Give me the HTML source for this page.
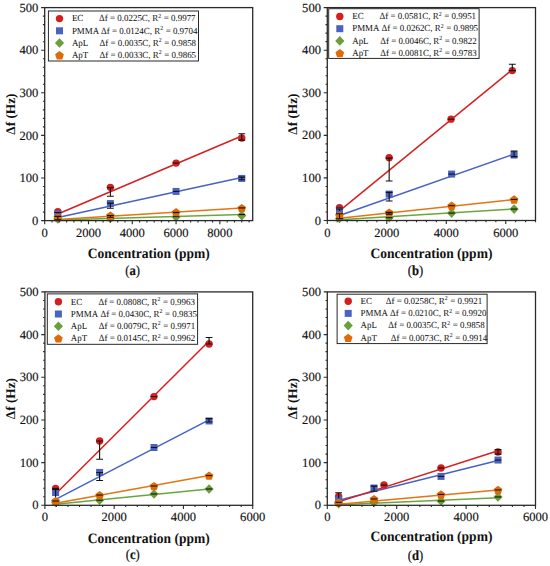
<!DOCTYPE html>
<html><head><meta charset="utf-8"><style>
html,body{margin:0;padding:0;background:#fff;}
body{width:550px;height:566px;overflow:hidden;}
svg{display:block;text-rendering:geometricPrecision;}
.t{font-family:"Liberation Serif",serif;font-size:12.6px;fill:#111;stroke:#111;stroke-width:0.15px;}
.b{font-family:"Liberation Serif",serif;font-size:13.3px;font-weight:bold;fill:#111;}
.l{font-family:"Liberation Serif",serif;font-size:9.25px;fill:#111;stroke:#111;stroke-width:0.04px;}
.s{font-size:6px;}
.sl{font-family:"Liberation Serif",serif;font-size:14px;font-weight:bold;fill:#111;stroke:#111;stroke-width:0.2px;}
.xb{font-family:"Liberation Serif",serif;font-size:14.3px;font-weight:bold;fill:#111;}
</style></head><body>
<svg width="550" height="566" viewBox="0 0 550 566">
<rect width="550" height="566" fill="#fff"/>
<line x1="57.84" y1="220.09" x2="241.75" y2="214.47" stroke="#6aa63e" stroke-width="1.5"/>
<line x1="57.84" y1="219.53" x2="241.75" y2="207.99" stroke="#e47514" stroke-width="1.5"/>
<line x1="57.84" y1="217.53" x2="241.75" y2="177.57" stroke="#4763c2" stroke-width="1.5"/>
<line x1="57.84" y1="214" x2="241.75" y2="136" stroke="#d42020" stroke-width="1.5"/>
<circle cx="57.84" cy="211.65" r="3.7" fill="#d51f1f"/>
<circle cx="110.38" cy="187.37" r="3.7" fill="#d51f1f"/>
<circle cx="176.07" cy="163.09" r="3.7" fill="#d51f1f"/>
<circle cx="241.75" cy="137.96" r="3.7" fill="#d51f1f"/>
<path d="M54.64 211.65H61.04" stroke="#111" stroke-width="1.1"/>
<path d="M110.38 187.8V196.32M106.98 187.8H113.78M106.98 196.32H113.78" stroke="#111" stroke-width="1.1" fill="none"/>
<path d="M172.87 163.09H179.27" stroke="#111" stroke-width="1.1"/>
<path d="M241.75 133.7V140.09M238.35 133.7H245.15M238.35 140.09H245.15" stroke="#111" stroke-width="1.1" fill="none"/>
<rect x="54.34" y="210.5" width="7.0" height="7.0" fill="#4a62c0"/>
<rect x="106.88" y="200.06" width="7.0" height="7.0" fill="#4a62c0"/>
<rect x="172.57" y="187.92" width="7.0" height="7.0" fill="#4a62c0"/>
<rect x="238.25" y="174.93" width="7.0" height="7.0" fill="#4a62c0"/>
<path d="M57.84 212.51V216.34M54.44 212.51H61.24M54.44 216.34H61.24" stroke="#111" stroke-width="1.1" fill="none"/>
<path d="M110.38 203.13V208.25M106.98 203.13H113.78M106.98 208.25H113.78" stroke="#111" stroke-width="1.1" fill="none"/>
<path d="M172.87 191.42H179.27" stroke="#111" stroke-width="1.1"/>
<path d="M241.75 177.15V179.7M238.35 177.15H245.15M238.35 179.7H245.15" stroke="#111" stroke-width="1.1" fill="none"/>
<path d="M57.84 214.22L62.44 219.02L57.84 223.82L53.24 219.02Z" fill="#6b9e3c"/>
<path d="M110.38 213.67L114.98 218.47L110.38 223.27L105.78 218.47Z" fill="#6b9e3c"/>
<path d="M176.07 212.18L180.67 216.98L176.07 221.78L171.47 216.98Z" fill="#6b9e3c"/>
<path d="M241.75 210.82L246.35 215.62L241.75 220.42L237.15 215.62Z" fill="#6b9e3c"/>
<path d="M54.64 219.02H61.04" stroke="#111" stroke-width="1.1"/>
<path d="M107.18 218.47H113.58" stroke="#111" stroke-width="1.1"/>
<path d="M172.87 216.55H179.27" stroke="#111" stroke-width="1.2"/>
<path d="M238.55 214.51H244.95" stroke="#111" stroke-width="1.2"/>
<polygon points="57.84,213.22 62.21,216.4 60.54,221.54 55.13,221.54 53.46,216.4" fill="#df6b08"/>
<polygon points="110.38,211.39 114.76,214.57 113.09,219.71 107.68,219.71 106.01,214.57" fill="#df6b08"/>
<polygon points="176.07,207.98 180.44,211.16 178.77,216.3 173.36,216.3 171.69,211.16" fill="#df6b08"/>
<polygon points="241.75,203.89 246.13,207.07 244.46,212.21 239.05,212.21 237.38,207.07" fill="#df6b08"/>
<path d="M57.84 216.34V219.75M54.44 216.34H61.24M54.44 219.75H61.24" stroke="#111" stroke-width="1.1" fill="none"/>
<path d="M110.38 215.49V217.19M106.98 215.49H113.78M106.98 217.19H113.78" stroke="#111" stroke-width="1.1" fill="none"/>
<path d="M172.87 212.51H179.27" stroke="#111" stroke-width="1.2"/>
<path d="M238.55 207.91H244.95" stroke="#111" stroke-width="1.2"/>
<rect x="44.7" y="7.6" width="208" height="213" fill="none" stroke="#2a2a2a" stroke-width="1.3"/>
<path d="M44.7 220.6H41.1M44.7 212.08H42.9M44.7 203.56H42.9M44.7 195.04H42.9M44.7 186.52H42.9M44.7 178H41.1M44.7 169.48H42.9M44.7 160.96H42.9M44.7 152.44H42.9M44.7 143.92H42.9M44.7 135.4H41.1M44.7 126.88H42.9M44.7 118.36H42.9M44.7 109.84H42.9M44.7 101.32H42.9M44.7 92.8H41.1M44.7 84.28H42.9M44.7 75.76H42.9M44.7 67.24H42.9M44.7 58.72H42.9M44.7 50.2H41.1M44.7 41.68H42.9M44.7 33.16H42.9M44.7 24.64H42.9M44.7 16.12H42.9M44.7 7.6H41.1M44.7 220.6V224.2M52 220.6V222.4M59.3 220.6V222.4M66.59 220.6V222.4M73.89 220.6V222.4M81.19 220.6V222.4M88.49 220.6V224.2M95.79 220.6V222.4M103.09 220.6V222.4M110.38 220.6V222.4M117.68 220.6V222.4M124.98 220.6V222.4M132.28 220.6V224.2M139.58 220.6V222.4M146.88 220.6V222.4M154.17 220.6V222.4M161.47 220.6V222.4M168.77 220.6V222.4M176.07 220.6V224.2M183.37 220.6V222.4M190.66 220.6V222.4M197.96 220.6V222.4M205.26 220.6V222.4M212.56 220.6V222.4M219.86 220.6V224.2M227.16 220.6V222.4M234.45 220.6V222.4M241.75 220.6V222.4M249.05 220.6V222.4" stroke="#2a2a2a" stroke-width="1.1" fill="none"/>
<text x="38.4" y="224.7" text-anchor="end" class="t">0</text>
<text x="38.4" y="182.1" text-anchor="end" class="t">100</text>
<text x="38.4" y="139.5" text-anchor="end" class="t">200</text>
<text x="38.4" y="96.9" text-anchor="end" class="t">300</text>
<text x="38.4" y="54.3" text-anchor="end" class="t">400</text>
<text x="38.4" y="11.7" text-anchor="end" class="t">500</text>
<text x="44.7" y="236.6" text-anchor="middle" class="t">0</text>
<text x="88.49" y="236.6" text-anchor="middle" class="t">2000</text>
<text x="132.28" y="236.6" text-anchor="middle" class="t">4000</text>
<text x="176.07" y="236.6" text-anchor="middle" class="t">6000</text>
<text x="219.86" y="236.6" text-anchor="middle" class="t">8000</text>
<text transform="translate(148.7 257.9) scale(0.945 1)" text-anchor="middle" class="xb">Concentration (ppm)</text>
<text transform="translate(132.7 275.4) scale(0.9 1)" text-anchor="middle" class="sl"><tspan font-weight="normal">(</tspan>a<tspan font-weight="normal">)</tspan></text>
<text transform="translate(14.6 114.1) rotate(-90)" text-anchor="middle" class="b">Δf (Hz)</text>
<rect x="48.4" y="11" width="150.1" height="50" fill="#fff" stroke="#1e1e1e" stroke-width="0.95"/>
<circle cx="59.5" cy="18.6" r="3.7" fill="#d51f1f"/>
<text transform="translate(71.9 21.35) scale(0.965 1)" class="l">EC</text>
<text transform="translate(99.1 21.35) scale(0.965 1)" class="l">Δf = 0.0225C, R<tspan dy="-3.5" class="s">2</tspan><tspan dy="3.5" dx="0.4"> = 0.9977</tspan></text>
<rect x="56" y="27.3" width="7.0" height="7.0" fill="#4a62c0"/>
<text transform="translate(71.9 33.55) scale(0.965 1)" class="l">PMMA</text>
<text transform="translate(101 33.55) scale(0.965 1)" class="l">Δf = 0.0124C, R<tspan dy="-3.5" class="s">2</tspan><tspan dy="3.5" dx="0.4"> = 0.9704</tspan></text>
<path d="M59.5 38.2L64.1 43L59.5 47.8L54.9 43Z" fill="#6b9e3c"/>
<text transform="translate(71.9 45.75) scale(0.965 1)" class="l">ApL</text>
<text transform="translate(99.6 45.75) scale(0.965 1)" class="l">Δf = 0.0035C, R<tspan dy="-3.5" class="s">2</tspan><tspan dy="3.5" dx="0.4"> = 0.9858</tspan></text>
<polygon points="59.5,51.1 63.87,54.28 62.2,59.42 56.8,59.42 55.13,54.28" fill="#df6b08"/>
<text transform="translate(71.9 57.95) scale(0.965 1)" class="l">ApT</text>
<text transform="translate(99.6 57.95) scale(0.965 1)" class="l">Δf = 0.0033C, R<tspan dy="-3.5" class="s">2</tspan><tspan dy="3.5" dx="0.4"> = 0.9865</tspan></text>
<line x1="339.49" y1="219.65" x2="514.09" y2="209" stroke="#6aa63e" stroke-width="1.5"/>
<line x1="339.49" y1="218.37" x2="514.09" y2="199.47" stroke="#e47514" stroke-width="1.5"/>
<line x1="339.49" y1="215.56" x2="514.09" y2="154.08" stroke="#4763c2" stroke-width="1.5"/>
<line x1="339.49" y1="210.88" x2="513.19" y2="68.92" stroke="#d42020" stroke-width="1.5"/>
<circle cx="339.49" cy="207.73" r="3.7" fill="#d51f1f"/>
<circle cx="389.17" cy="157.65" r="3.7" fill="#d51f1f"/>
<circle cx="451.03" cy="119.16" r="3.7" fill="#d51f1f"/>
<circle cx="512.3" cy="70.62" r="3.7" fill="#d51f1f"/>
<path d="M336.29 207.73H342.69" stroke="#111" stroke-width="1.1"/>
<path d="M389.17 158.08V181.07M385.77 158.08H392.57M385.77 181.07H392.57" stroke="#111" stroke-width="1.1" fill="none"/>
<path d="M447.83 119.16H454.23" stroke="#111" stroke-width="1.1"/>
<path d="M512.3 64.23V70.62M508.9 64.23H515.7M508.9 70.62H515.7" stroke="#111" stroke-width="1.1" fill="none"/>
<rect x="335.99" y="207.63" width="7.0" height="7.0" fill="#4a62c0"/>
<rect x="385.67" y="190.6" width="7.0" height="7.0" fill="#4a62c0"/>
<rect x="448.13" y="170.59" width="7.0" height="7.0" fill="#4a62c0"/>
<rect x="510.59" y="151.55" width="7.0" height="7.0" fill="#4a62c0"/>
<path d="M339.49 209V214.37M336.09 209H342.89M336.09 214.37H342.89" stroke="#111" stroke-width="1.1" fill="none"/>
<path d="M389.17 192.4V201M385.77 192.4H392.57M385.77 201H392.57" stroke="#111" stroke-width="1.1" fill="none"/>
<path d="M448.43 174.09H454.83" stroke="#111" stroke-width="1.1"/>
<path d="M514.09 151.09V156.63M510.69 151.09H517.49M510.69 156.63H517.49" stroke="#111" stroke-width="1.1" fill="none"/>
<path d="M339.49 213.7L344.09 218.5L339.49 223.3L334.89 218.5Z" fill="#6b9e3c"/>
<path d="M389.17 212.89L393.77 217.69L389.17 222.49L384.57 217.69Z" fill="#6b9e3c"/>
<path d="M451.63 208.29L456.23 213.09L451.63 217.89L447.03 213.09Z" fill="#6b9e3c"/>
<path d="M514.09 204.29L518.69 209.09L514.09 213.89L509.49 209.09Z" fill="#6b9e3c"/>
<path d="M336.29 218.5H342.69" stroke="#111" stroke-width="1.1"/>
<path d="M385.97 217.69H392.37" stroke="#111" stroke-width="1.1"/>
<path d="M448.43 213.09H454.83" stroke="#111" stroke-width="1.1"/>
<path d="M510.89 209.09H517.29" stroke="#111" stroke-width="1.1"/>
<polygon points="339.49,210.99 343.87,214.17 342.2,219.31 336.79,219.31 335.12,214.17" fill="#df6b08"/>
<polygon points="389.17,208.39 393.54,211.57 391.87,216.72 386.46,216.72 384.79,211.57" fill="#df6b08"/>
<polygon points="451.63,201.58 456,204.76 454.33,209.9 448.92,209.9 447.25,204.76" fill="#df6b08"/>
<polygon points="514.09,195.37 518.46,198.54 516.79,203.69 511.38,203.69 509.71,198.54" fill="#df6b08"/>
<path d="M339.49 213.69V218.8M336.09 213.69H342.89M336.09 218.8H342.89" stroke="#111" stroke-width="1.1" fill="none"/>
<path d="M389.17 212.41V214.11M385.77 212.41H392.57M385.77 214.11H392.57" stroke="#111" stroke-width="1.1" fill="none"/>
<path d="M448.43 205.68H454.83" stroke="#111" stroke-width="1.1"/>
<path d="M510.89 199.47H517.29" stroke="#111" stroke-width="1.1"/>
<rect x="327.3" y="7.6" width="208.2" height="212.9" fill="none" stroke="#2a2a2a" stroke-width="1.3"/>
<path d="M327.3 220.5H323.7M327.3 211.98H325.5M327.3 203.47H325.5M327.3 194.95H325.5M327.3 186.44H325.5M327.3 177.92H323.7M327.3 169.4H325.5M327.3 160.89H325.5M327.3 152.37H325.5M327.3 143.86H325.5M327.3 135.34H323.7M327.3 126.82H325.5M327.3 118.31H325.5M327.3 109.79H325.5M327.3 101.28H325.5M327.3 92.76H323.7M327.3 84.24H325.5M327.3 75.73H325.5M327.3 67.21H325.5M327.3 58.7H325.5M327.3 50.18H323.7M327.3 41.66H325.5M327.3 33.15H325.5M327.3 24.63H325.5M327.3 16.12H325.5M327.3 7.6H323.7M327.3 220.5V224.1M337.21 220.5V222.3M347.13 220.5V222.3M357.04 220.5V222.3M366.96 220.5V222.3M376.87 220.5V222.3M386.79 220.5V224.1M396.7 220.5V222.3M406.61 220.5V222.3M416.53 220.5V222.3M426.44 220.5V222.3M436.36 220.5V222.3M446.27 220.5V224.1M456.19 220.5V222.3M466.1 220.5V222.3M476.01 220.5V222.3M485.93 220.5V222.3M495.84 220.5V222.3M505.76 220.5V224.1M515.67 220.5V222.3M525.59 220.5V222.3M535.5 220.5V222.3" stroke="#2a2a2a" stroke-width="1.1" fill="none"/>
<text x="321" y="224.6" text-anchor="end" class="t">0</text>
<text x="321" y="182.02" text-anchor="end" class="t">100</text>
<text x="321" y="139.44" text-anchor="end" class="t">200</text>
<text x="321" y="96.86" text-anchor="end" class="t">300</text>
<text x="321" y="54.28" text-anchor="end" class="t">400</text>
<text x="321" y="11.7" text-anchor="end" class="t">500</text>
<text x="327.3" y="236.5" text-anchor="middle" class="t">0</text>
<text x="386.79" y="236.5" text-anchor="middle" class="t">2000</text>
<text x="446.27" y="236.5" text-anchor="middle" class="t">4000</text>
<text x="505.76" y="236.5" text-anchor="middle" class="t">6000</text>
<text transform="translate(431.4 258.1) scale(0.945 1)" text-anchor="middle" class="xb">Concentration (ppm)</text>
<text transform="translate(415.4 275.4) scale(0.9 1)" text-anchor="middle" class="sl"><tspan font-weight="normal">(</tspan>b<tspan font-weight="normal">)</tspan></text>
<text transform="translate(297.2 114.05) rotate(-90)" text-anchor="middle" class="b">Δf (Hz)</text>
<rect x="328.7" y="8.7" width="150.4" height="49.7" fill="#fff" stroke="#1e1e1e" stroke-width="0.95"/>
<circle cx="339.8" cy="16.5" r="3.7" fill="#d51f1f"/>
<text transform="translate(352.2 19.25) scale(0.965 1)" class="l">EC</text>
<text transform="translate(379.6 19.25) scale(0.965 1)" class="l">Δf = 0.0581C, R<tspan dy="-3.5" class="s">2</tspan><tspan dy="3.5" dx="0.4"> = 0.9951</tspan></text>
<rect x="336.3" y="25.2" width="7.0" height="7.0" fill="#4a62c0"/>
<text transform="translate(352.2 31.45) scale(0.965 1)" class="l">PMMA</text>
<text transform="translate(381.6 31.45) scale(0.965 1)" class="l">Δf = 0.0262C, R<tspan dy="-3.5" class="s">2</tspan><tspan dy="3.5" dx="0.4"> = 0.9895</tspan></text>
<path d="M339.8 36.1L344.4 40.9L339.8 45.7L335.2 40.9Z" fill="#6b9e3c"/>
<text transform="translate(352.2 43.65) scale(0.965 1)" class="l">ApL</text>
<text transform="translate(380.2 43.65) scale(0.965 1)" class="l">Δf = 0.0046C, R<tspan dy="-3.5" class="s">2</tspan><tspan dy="3.5" dx="0.4"> = 0.9822</tspan></text>
<polygon points="339.8,49 344.17,52.18 342.5,57.32 337.1,57.32 335.43,52.18" fill="#df6b08"/>
<text transform="translate(352.2 55.85) scale(0.965 1)" class="l">ApT</text>
<text transform="translate(380.2 55.85) scale(0.965 1)" class="l">Δf = 0.0081C, R<tspan dy="-3.5" class="s">2</tspan><tspan dy="3.5" dx="0.4"> = 0.9783</tspan></text>
<line x1="55.6" y1="504.23" x2="209.06" y2="489" stroke="#6aa63e" stroke-width="1.5"/>
<line x1="55.6" y1="503.17" x2="209.06" y2="475.59" stroke="#e47514" stroke-width="1.5"/>
<line x1="55.6" y1="499.45" x2="209.06" y2="419.94" stroke="#4763c2" stroke-width="1.5"/>
<line x1="55.6" y1="494.03" x2="209.06" y2="340.98" stroke="#d42020" stroke-width="1.5"/>
<circle cx="55.6" cy="488.4" r="3.7" fill="#d51f1f"/>
<circle cx="99.62" cy="441.02" r="3.7" fill="#d51f1f"/>
<circle cx="154" cy="396.59" r="3.7" fill="#d51f1f"/>
<circle cx="209.06" cy="343.97" r="3.7" fill="#d51f1f"/>
<path d="M52.4 488.4H58.8" stroke="#111" stroke-width="1.1"/>
<path d="M99.62 441.02V459.21M96.22 441.02H103.02M96.22 459.21H103.02" stroke="#111" stroke-width="1.1" fill="none"/>
<path d="M150.8 396.59H157.19" stroke="#111" stroke-width="1.1"/>
<path d="M209.06 337.57V343.97M205.66 337.57H212.46M205.66 343.97H212.46" stroke="#111" stroke-width="1.1" fill="none"/>
<rect x="52.1" y="489" width="7.0" height="7.0" fill="#4a62c0"/>
<rect x="96.12" y="468.94" width="7.0" height="7.0" fill="#4a62c0"/>
<rect x="150.5" y="444.01" width="7.0" height="7.0" fill="#4a62c0"/>
<rect x="205.56" y="417.46" width="7.0" height="7.0" fill="#4a62c0"/>
<path d="M55.6 489.51V504.02M52.2 489.51H59M52.2 504.02H59" stroke="#111" stroke-width="1.1" fill="none"/>
<path d="M99.62 472.44V480.55M96.22 472.44H103.02M96.22 480.55H103.02" stroke="#111" stroke-width="1.1" fill="none"/>
<path d="M150.8 447.51H157.19" stroke="#111" stroke-width="1.1"/>
<path d="M209.06 418.66V422.07M205.66 418.66H212.46M205.66 422.07H212.46" stroke="#111" stroke-width="1.1" fill="none"/>
<path d="M55.6 497.6L60.2 502.4L55.6 507.2L51 502.4Z" fill="#6b9e3c"/>
<path d="M99.62 495.38L104.22 500.18L99.62 504.98L95.02 500.18Z" fill="#6b9e3c"/>
<path d="M154 489.19L158.59 493.99L154 498.79L149.4 493.99Z" fill="#6b9e3c"/>
<path d="M209.06 484.2L213.66 489L209.06 493.8L204.46 489Z" fill="#6b9e3c"/>
<path d="M52.4 502.4H58.8" stroke="#111" stroke-width="1.1"/>
<path d="M96.42 500.18H102.82" stroke="#111" stroke-width="1.1"/>
<path d="M150.8 493.99H157.19" stroke="#111" stroke-width="1.1"/>
<path d="M205.86 489H212.26" stroke="#111" stroke-width="1.1"/>
<polygon points="55.6,496.93 59.98,500.11 58.31,505.25 52.9,505.25 51.23,500.11" fill="#df6b08"/>
<polygon points="99.62,490.96 104,494.14 102.32,499.28 96.92,499.28 95.25,494.14" fill="#df6b08"/>
<polygon points="154,481.91 158.37,485.09 156.7,490.23 151.29,490.23 149.62,485.09" fill="#df6b08"/>
<polygon points="209.06,471.49 213.44,474.67 211.77,479.82 206.36,479.82 204.69,474.67" fill="#df6b08"/>
<path d="M52.4 501.03H58.8" stroke="#111" stroke-width="1.1"/>
<path d="M96.42 495.06H102.82" stroke="#111" stroke-width="1.1"/>
<path d="M150.8 486.01H157.19" stroke="#111" stroke-width="1.1"/>
<path d="M205.86 475.59H212.26" stroke="#111" stroke-width="1.1"/>
<rect x="44.9" y="291.9" width="207.8" height="213.4" fill="none" stroke="#2a2a2a" stroke-width="1.3"/>
<path d="M44.9 505.3H41.3M44.9 496.76H43.1M44.9 488.23H43.1M44.9 479.69H43.1M44.9 471.16H43.1M44.9 462.62H41.3M44.9 454.08H43.1M44.9 445.55H43.1M44.9 437.01H43.1M44.9 428.48H43.1M44.9 419.94H41.3M44.9 411.4H43.1M44.9 402.87H43.1M44.9 394.33H43.1M44.9 385.8H43.1M44.9 377.26H41.3M44.9 368.72H43.1M44.9 360.19H43.1M44.9 351.65H43.1M44.9 343.12H43.1M44.9 334.58H41.3M44.9 326.04H43.1M44.9 317.51H43.1M44.9 308.97H43.1M44.9 300.44H43.1M44.9 291.9H41.3M44.9 505.3V508.9M56.44 505.3V507.1M67.99 505.3V507.1M79.53 505.3V507.1M91.08 505.3V507.1M102.62 505.3V507.1M114.17 505.3V508.9M125.71 505.3V507.1M137.26 505.3V507.1M148.8 505.3V507.1M160.34 505.3V507.1M171.89 505.3V507.1M183.43 505.3V508.9M194.98 505.3V507.1M206.52 505.3V507.1M218.07 505.3V507.1M229.61 505.3V507.1M241.16 505.3V507.1M252.7 505.3V508.9" stroke="#2a2a2a" stroke-width="1.1" fill="none"/>
<text x="38.6" y="509.4" text-anchor="end" class="t">0</text>
<text x="38.6" y="466.72" text-anchor="end" class="t">100</text>
<text x="38.6" y="424.04" text-anchor="end" class="t">200</text>
<text x="38.6" y="381.36" text-anchor="end" class="t">300</text>
<text x="38.6" y="338.68" text-anchor="end" class="t">400</text>
<text x="38.6" y="296" text-anchor="end" class="t">500</text>
<text x="44.9" y="521.3" text-anchor="middle" class="t">0</text>
<text x="114.17" y="521.3" text-anchor="middle" class="t">2000</text>
<text x="183.43" y="521.3" text-anchor="middle" class="t">4000</text>
<text x="252.7" y="521.3" text-anchor="middle" class="t">6000</text>
<text transform="translate(148.8 542.8) scale(0.945 1)" text-anchor="middle" class="xb">Concentration (ppm)</text>
<text transform="translate(132.8 559.1) scale(0.9 1)" text-anchor="middle" class="sl"><tspan font-weight="normal">(</tspan>c<tspan font-weight="normal">)</tspan></text>
<text transform="translate(14.8 398.6) rotate(-90)" text-anchor="middle" class="b">Δf (Hz)</text>
<rect x="47.3" y="293.9" width="150.3" height="50.4" fill="#fff" stroke="#1e1e1e" stroke-width="0.95"/>
<circle cx="58.4" cy="301.8" r="3.7" fill="#d51f1f"/>
<text transform="translate(70.8 304.55) scale(0.965 1)" class="l">EC</text>
<text transform="translate(98.4 304.55) scale(0.965 1)" class="l">Δf = 0.0808C, R<tspan dy="-3.5" class="s">2</tspan><tspan dy="3.5" dx="0.4"> = 0.9963</tspan></text>
<rect x="54.9" y="310.5" width="7.0" height="7.0" fill="#4a62c0"/>
<text transform="translate(70.8 316.75) scale(0.965 1)" class="l">PMMA</text>
<text transform="translate(100.4 316.75) scale(0.965 1)" class="l">Δf = 0.0430C, R<tspan dy="-3.5" class="s">2</tspan><tspan dy="3.5" dx="0.4"> = 0.9835</tspan></text>
<path d="M58.4 321.4L63 326.2L58.4 331L53.8 326.2Z" fill="#6b9e3c"/>
<text transform="translate(70.8 328.95) scale(0.965 1)" class="l">ApL</text>
<text transform="translate(98.7 328.95) scale(0.965 1)" class="l">Δf = 0.0079C, R<tspan dy="-3.5" class="s">2</tspan><tspan dy="3.5" dx="0.4"> = 0.9971</tspan></text>
<polygon points="58.4,334.3 62.77,337.48 61.1,342.62 55.7,342.62 54.03,337.48" fill="#df6b08"/>
<text transform="translate(70.8 341.15) scale(0.965 1)" class="l">ApT</text>
<text transform="translate(98.7 341.15) scale(0.965 1)" class="l">Δf = 0.0145C, R<tspan dy="-3.5" class="s">2</tspan><tspan dy="3.5" dx="0.4"> = 0.9962</tspan></text>
<line x1="338.61" y1="504.79" x2="498.02" y2="497.83" stroke="#6aa63e" stroke-width="1.5"/>
<line x1="338.61" y1="504.23" x2="498.02" y2="489.94" stroke="#e47514" stroke-width="1.5"/>
<line x1="338.61" y1="500.18" x2="498.02" y2="460.49" stroke="#4763c2" stroke-width="1.5"/>
<line x1="338.61" y1="501.89" x2="498.02" y2="450.67" stroke="#d42020" stroke-width="1.5"/>
<circle cx="338.61" cy="496.55" r="3.7" fill="#d51f1f"/>
<circle cx="384" cy="485.03" r="3.7" fill="#d51f1f"/>
<circle cx="441.01" cy="468" r="3.7" fill="#d51f1f"/>
<circle cx="498.02" cy="451.95" r="3.7" fill="#d51f1f"/>
<path d="M335.41 496.55H341.81" stroke="#111" stroke-width="1.1"/>
<path d="M380.8 485.03H387.2" stroke="#111" stroke-width="1.1"/>
<path d="M437.81 468H444.21" stroke="#111" stroke-width="1.1"/>
<path d="M498.02 449.6V454.08M494.62 449.6H501.42M494.62 454.08H501.42" stroke="#111" stroke-width="1.1" fill="none"/>
<rect x="335.11" y="496.04" width="7.0" height="7.0" fill="#4a62c0"/>
<rect x="370.51" y="484.51" width="7.0" height="7.0" fill="#4a62c0"/>
<rect x="437.51" y="472.91" width="7.0" height="7.0" fill="#4a62c0"/>
<rect x="494.52" y="456.56" width="7.0" height="7.0" fill="#4a62c0"/>
<path d="M338.61 492.71V504.66M335.21 492.71H342.01M335.21 504.66H342.01" stroke="#111" stroke-width="1.1" fill="none"/>
<path d="M374.01 486.09V491.22M370.61 486.09H377.41M370.61 491.22H377.41" stroke="#111" stroke-width="1.1" fill="none"/>
<path d="M437.81 476.41H444.21" stroke="#111" stroke-width="1.1"/>
<path d="M494.82 460.06H501.22" stroke="#111" stroke-width="1.1"/>
<path d="M338.61 498.79L343.21 503.59L338.61 508.39L334.01 503.59Z" fill="#6b9e3c"/>
<path d="M374.01 497.6L378.61 502.4L374.01 507.2L369.41 502.4Z" fill="#6b9e3c"/>
<path d="M441.01 496.23L445.61 501.03L441.01 505.83L436.41 501.03Z" fill="#6b9e3c"/>
<path d="M498.02 492.18L502.62 496.98L498.02 501.78L493.42 496.98Z" fill="#6b9e3c"/>
<path d="M335.41 503.59H341.81" stroke="#111" stroke-width="1.1"/>
<path d="M370.81 502.4H377.21" stroke="#111" stroke-width="1.1"/>
<path d="M437.81 501.03H444.21" stroke="#111" stroke-width="1.1"/>
<path d="M494.82 496.98H501.22" stroke="#111" stroke-width="1.1"/>
<polygon points="338.61,498.21 342.99,501.39 341.32,506.53 335.91,506.53 334.24,501.39" fill="#df6b08"/>
<polygon points="374.01,494.88 378.38,498.06 376.71,503.2 371.3,503.2 369.63,498.06" fill="#df6b08"/>
<polygon points="441.01,490.32 445.39,493.5 443.72,498.64 438.31,498.64 436.64,493.5" fill="#df6b08"/>
<polygon points="498.02,485.84 502.4,489.01 500.73,494.16 495.32,494.16 493.65,489.01" fill="#df6b08"/>
<path d="M335.41 502.31H341.81" stroke="#111" stroke-width="1.1"/>
<path d="M370.81 498.98H377.21" stroke="#111" stroke-width="1.1"/>
<path d="M437.81 494.42H444.21" stroke="#111" stroke-width="1.1"/>
<path d="M494.82 489.94H501.22" stroke="#111" stroke-width="1.1"/>
<rect x="327.3" y="291.9" width="208.2" height="213.4" fill="none" stroke="#2a2a2a" stroke-width="1.3"/>
<path d="M327.3 505.3H323.7M327.3 496.76H325.5M327.3 488.23H325.5M327.3 479.69H325.5M327.3 471.16H325.5M327.3 462.62H323.7M327.3 454.08H325.5M327.3 445.55H325.5M327.3 437.01H325.5M327.3 428.48H325.5M327.3 419.94H323.7M327.3 411.4H325.5M327.3 402.87H325.5M327.3 394.33H325.5M327.3 385.8H325.5M327.3 377.26H323.7M327.3 368.72H325.5M327.3 360.19H325.5M327.3 351.65H325.5M327.3 343.12H325.5M327.3 334.58H323.7M327.3 326.04H325.5M327.3 317.51H325.5M327.3 308.97H325.5M327.3 300.44H325.5M327.3 291.9H323.7M327.3 505.3V508.9M338.87 505.3V507.1M350.43 505.3V507.1M362 505.3V507.1M373.57 505.3V507.1M385.13 505.3V507.1M396.7 505.3V508.9M408.27 505.3V507.1M419.83 505.3V507.1M431.4 505.3V507.1M442.97 505.3V507.1M454.53 505.3V507.1M466.1 505.3V508.9M477.67 505.3V507.1M489.23 505.3V507.1M500.8 505.3V507.1M512.37 505.3V507.1M523.93 505.3V507.1M535.5 505.3V508.9" stroke="#2a2a2a" stroke-width="1.1" fill="none"/>
<text x="321" y="509.4" text-anchor="end" class="t">0</text>
<text x="321" y="466.72" text-anchor="end" class="t">100</text>
<text x="321" y="424.04" text-anchor="end" class="t">200</text>
<text x="321" y="381.36" text-anchor="end" class="t">300</text>
<text x="321" y="338.68" text-anchor="end" class="t">400</text>
<text x="321" y="296" text-anchor="end" class="t">500</text>
<text x="327.3" y="521.3" text-anchor="middle" class="t">0</text>
<text x="396.7" y="521.3" text-anchor="middle" class="t">2000</text>
<text x="466.1" y="521.3" text-anchor="middle" class="t">4000</text>
<text x="535.5" y="521.3" text-anchor="middle" class="t">6000</text>
<text transform="translate(431.4 541.2) scale(0.945 1)" text-anchor="middle" class="xb">Concentration (ppm)</text>
<text transform="translate(415.4 559.8) scale(0.9 1)" text-anchor="middle" class="sl"><tspan font-weight="normal">(</tspan>d<tspan font-weight="normal">)</tspan></text>
<text transform="translate(297.2 398.6) rotate(-90)" text-anchor="middle" class="b">Δf (Hz)</text>
<rect x="337.1" y="294.2" width="150" height="49.4" fill="#fff" stroke="#1e1e1e" stroke-width="0.95"/>
<circle cx="348.2" cy="301.2" r="3.7" fill="#d51f1f"/>
<text transform="translate(360.6 303.95) scale(0.965 1)" class="l">EC</text>
<text transform="translate(385.7 303.95) scale(0.965 1)" class="l">Δf = 0.0258C, R<tspan dy="-3.5" class="s">2</tspan><tspan dy="3.5" dx="0.4"> = 0.9921</tspan></text>
<rect x="344.7" y="309.9" width="7.0" height="7.0" fill="#4a62c0"/>
<text transform="translate(360.6 316.15) scale(0.965 1)" class="l">PMMA</text>
<text transform="translate(390 316.15) scale(0.965 1)" class="l">Δf = 0.0210C, R<tspan dy="-3.5" class="s">2</tspan><tspan dy="3.5" dx="0.4"> = 0.9920</tspan></text>
<path d="M348.2 320.8L352.8 325.6L348.2 330.4L343.6 325.6Z" fill="#6b9e3c"/>
<text transform="translate(360.6 328.35) scale(0.965 1)" class="l">ApL</text>
<text transform="translate(388.2 328.35) scale(0.965 1)" class="l">Δf = 0.0035C, R<tspan dy="-3.5" class="s">2</tspan><tspan dy="3.5" dx="0.4"> = 0.9858</tspan></text>
<polygon points="348.2,333.7 352.57,336.88 350.9,342.02 345.5,342.02 343.83,336.88" fill="#df6b08"/>
<text transform="translate(360.6 340.55) scale(0.965 1)" class="l">ApT</text>
<text transform="translate(390.7 340.55) scale(0.965 1)" class="l">Δf = 0.0073C, R<tspan dy="-3.5" class="s">2</tspan><tspan dy="3.5" dx="0.4"> = 0.9914</tspan></text>
</svg>
</body></html>
